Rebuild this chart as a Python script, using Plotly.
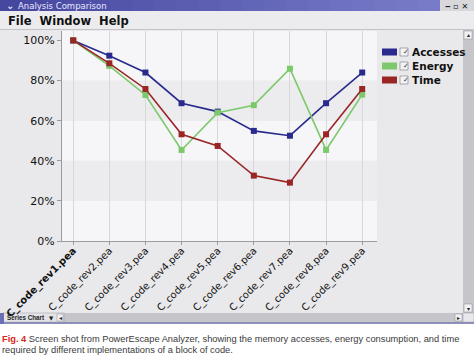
import plotly.graph_objects as go

categories = ["C_code_rev1.pea", "C_code_rev2.pea", "C_code_rev3.pea", "C_code_rev4.pea",
              "C_code_rev5.pea", "C_code_rev6.pea", "C_code_rev7.pea", "C_code_rev8.pea",
              "C_code_rev9.pea"]
accesses = [100, 92.4, 84, 68.7, 64.5, 54.9, 52.5, 68.7, 84]
energy = [100, 87.3, 72.8, 45.4, 64, 67.7, 85.9, 45.4, 73]
time_ = [100, 88.6, 75.8, 53.2, 47.4, 32.6, 29.1, 53.2, 75.8]
series_names = ["Accesses", "Energy", "Time"]
series_colors = ["#2a2a8e", "#7cc96b", "#9a2525"]
y_ticks = [0, 20, 40, 60, 80, 100]
y_ticktext = ["0%", "20%", "40%", "60%", "80%", "100%"]

W, H = 474, 360

def px(x):
    return x / W

def py(y):
    return 1 - y / H

fig = go.Figure()
for name, vals, col in zip(series_names, [accesses, energy, time_], series_colors):
    fig.add_trace(go.Scatter(
        x=list(range(len(categories))), y=vals, mode="lines+markers", name=name,
        line=dict(color=col, width=1.6),
        marker=dict(symbol="square", size=6, color=col),
        showlegend=False, hoverinfo="skip"))

shapes = []
def rect(x0, y0, x1, y1, fill, line=None, lw=0, layer="below"):
    shapes.append(dict(type="rect", xref="paper", yref="paper",
                       x0=px(x0), x1=px(x1), y0=py(y1), y1=py(y0),
                       fillcolor=fill, line=dict(color=line or fill, width=lw), layer=layer))

def hline(x0, x1, y, col, w=1, layer="below"):
    shapes.append(dict(type="line", xref="paper", yref="paper",
                       x0=px(x0), x1=px(x1), y0=py(y), y1=py(y),
                       line=dict(color=col, width=w), layer=layer))

# window background
rect(0, 0, 474, 323, "#e9e9eb")
# title bar gradient (approximate with strips)
steps = 20
for i in range(steps):
    t = i / (steps - 1)
    r = int(70 + t * (120 - 70)); g = int(72 + t * (124 - 72)); b = int(160 + t * (200 - 160))
    rect(i * 440 / steps, 0, (i + 1) * 440 / steps + 0.5, 11, f"rgb({r},{g},{b})")
rect(440, 0, 474, 11, "#d8d8dc")
# menu bar
rect(0, 11, 474, 29, "#ececee")
hline(0, 474, 29.5, "#c4c4c8")
# chart panel
rect(2, 30, 463, 313, "#e9e9eb")
# vertical scrollbar
rect(463, 30, 474, 313, "#c5c5ca")
rect(464, 31, 472, 39, "#f2f2f4", "#8a8a90", 0.5)
rect(464, 304, 472, 312, "#f2f2f4", "#8a8a90", 0.5)
# horizontal scrollbar
rect(0, 313, 474, 322, "#c5c5ca")
rect(2, 313, 64, 322, "#e4e4e8", "#9a9aa0", 0.5)
rect(57, 314, 63, 321, "#f2f2f4", "#8a8a90", 0.5)
rect(455, 314, 462, 321, "#f2f2f4", "#8a8a90", 0.5)
rect(463, 313, 474, 322, "#e8e8ec", "#9a9aa0", 0.5)
rect(0, 322, 474, 324, "#8c8fb8")
rect(0, 313, 4, 324, "#6a6fb8")
# caption area
rect(0, 324, 474, 360, "#ffffff")

# plot bands
band_cols = ["#f6f6f8", "#ececef", "#f6f6f8", "#ececef", "#f6f6f8"]
for i in range(5):
    shapes.append(dict(type="rect", xref="x domain", yref="y", x0=0, x1=1,
                       y0=i * 20, y1=(i + 1) * 20 if i < 4 else 104.7,
                       fillcolor=band_cols[i], line=dict(width=0), layer="below"))

# legend swatches
leg_y = [52, 66, 80]
for yy, col in zip(leg_y, series_colors):
    rect(382, yy - 3.5, 397, yy + 3.5, col)
    rect(400, yy - 4, 408, yy + 4, "#f4f4f6", "#7a7a80", 0.6)

annotations = []
for yy, name in zip(leg_y, series_names):
    annotations.append(dict(xref="paper", yref="paper", x=px(401), y=py(yy), text="✓",
                            showarrow=False, xanchor="left", yanchor="middle",
                            font=dict(size=7, color="#333", family="DejaVu Sans")))
    annotations.append(dict(xref="paper", yref="paper", x=px(410), y=py(yy), text=f"<b>{name}</b>",
                            showarrow=False, xanchor="left", yanchor="middle",
                            font=dict(size=10.5, color="#111", family="DejaVu Sans")))

annotations += [
    dict(xref="paper", yref="paper", x=px(4), y=py(5.5), text="⌄", showarrow=False,
         xanchor="left", yanchor="middle", font=dict(size=10, color="#ffffff", family="DejaVu Sans")),
    dict(xref="paper", yref="paper", x=px(16), y=py(5.8), text="Analysis Comparison", showarrow=False,
         xanchor="left", yanchor="middle", font=dict(size=8.5, color="#e8e8ff", family="DejaVu Sans")),
    dict(xref="paper", yref="paper", x=px(443), y=py(6), text="<b>‒ ▫ ✕</b>", showarrow=False,
         xanchor="left", yanchor="middle", font=dict(size=8, color="#222", family="DejaVu Sans")),
    dict(xref="paper", yref="paper", x=px(6), y=py(21), text="<b>File  Window  Help</b>", showarrow=False,
         xanchor="left", yanchor="middle", font=dict(size=11.5, color="#111", family="DejaVu Sans")),
    dict(xref="paper", yref="paper", x=px(5), y=py(317.5), text="<b>Series Chart</b>", showarrow=False,
         xanchor="left", yanchor="middle", font=dict(size=6.3, color="#222", family="Liberation Sans")),
    dict(xref="paper", yref="paper", x=px(51), y=py(317.5), text="▼", showarrow=False,
         xanchor="center", yanchor="middle", font=dict(size=5.5, color="#222", family="DejaVu Sans")),
    dict(xref="paper", yref="paper", x=px(60), y=py(317.5), text="◂", showarrow=False,
         xanchor="center", yanchor="middle", font=dict(size=6, color="#222", family="DejaVu Sans")),
    dict(xref="paper", yref="paper", x=px(458.5), y=py(317.5), text="▸", showarrow=False,
         xanchor="center", yanchor="middle", font=dict(size=6, color="#222", family="DejaVu Sans")),
    dict(xref="paper", yref="paper", x=px(468), y=py(35), text="▴", showarrow=False,
         xanchor="center", yanchor="middle", font=dict(size=6, color="#222", family="DejaVu Sans")),
    dict(xref="paper", yref="paper", x=px(468), y=py(308), text="▾", showarrow=False,
         xanchor="center", yanchor="middle", font=dict(size=6, color="#222", family="DejaVu Sans")),
    dict(xref="paper", yref="paper", x=px(0), y=py(346), yanchor="bottom",
         text="<span style='color:#d9261c'><b>Fig. 4</b></span> Screen shot from PowerEscape Analyzer, showing the memory accesses, energy consumption, and time",
         showarrow=False, xanchor="left", font=dict(size=9.3, color="#3a3a3a", family="Liberation Sans")),
    dict(xref="paper", yref="paper", x=px(0), y=py(357), yanchor="bottom",
         text="required by different implementations of a block of code.",
         showarrow=False, xanchor="left", font=dict(size=9.3, color="#3a3a3a", family="Liberation Sans")),
]

ticktext = [f"<b>{categories[0]}</b>"] + categories[1:]

fig.update_layout(
    width=W, height=H, margin=dict(l=0, r=0, t=0, b=0, autoexpand=False),
    paper_bgcolor="#ffffff", plot_bgcolor="rgba(0,0,0,0)",
    shapes=shapes, annotations=annotations,
    xaxis=dict(domain=[px(62), px(377)], range=[-0.31, 8.41], automargin=False,
               tickvals=list(range(len(categories))), ticktext=ticktext,
               ticklabeloverflow="allow", ticklabelstandoff=-4,
               tickangle=-45, showgrid=True, gridcolor="#d8d8dc", gridwidth=1,
               zeroline=False, showline=True, linecolor="#9a9aa0", linewidth=1,
               ticks="outside", ticklen=3, tickcolor="#9a9aa0",
               tickfont=dict(size=10, color="#111", family="DejaVu Sans")),
    yaxis=dict(domain=[py(241), py(31)], range=[0, 104.7], automargin=False,
               tickvals=y_ticks, ticktext=y_ticktext, showgrid=False, zeroline=False,
               showline=True, linecolor="#9a9aa0", linewidth=1,
               ticks="outside", ticklen=4, tickcolor="#9a9aa0",
               tickfont=dict(size=11, color="#111", family="DejaVu Sans")),
)

fig.write_html("out.html", config={"displayModeBar": False},
               post_script="document.body.style.margin='0';document.body.style.overflow='hidden';")
